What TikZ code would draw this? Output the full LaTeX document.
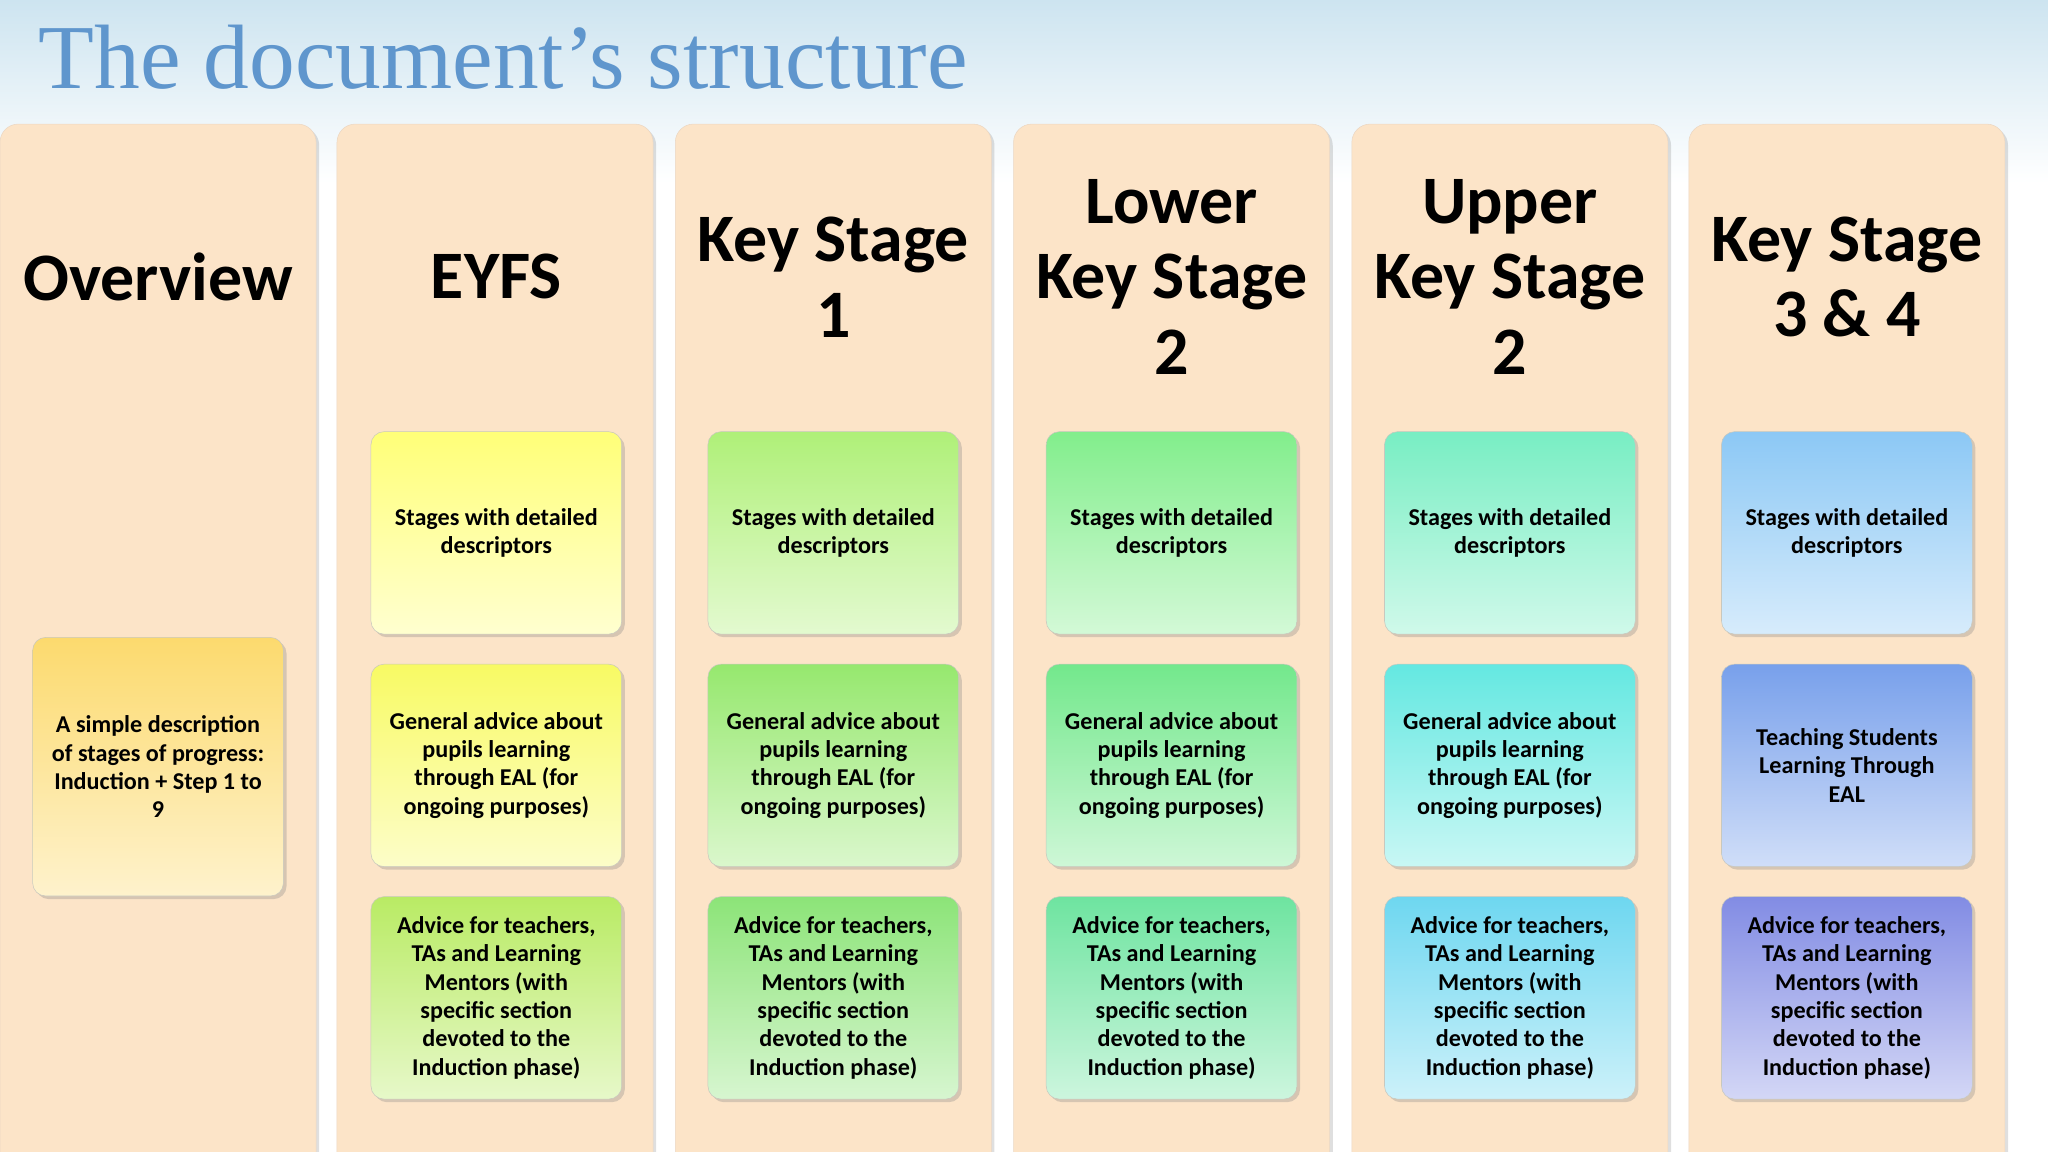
\documentclass[tikz,border=0pt]{standalone}
\usepackage{fontspec}
\setmainfont{Carlito}
\newfontfamily\titlefont{Liberation Serif}
\usetikzlibrary{shadows}
\definecolor{pan}{RGB}{252,228,200}
\definecolor{pand}{RGB}{235,215,195}
\definecolor{ov}{RGB}{252,218,110}
\definecolor{ea}{RGB}{255,255,120}
\definecolor{eb}{RGB}{248,250,100}
\definecolor{ec}{RGB}{185,235,100}
\definecolor{ka}{RGB}{175,240,120}
\definecolor{kb}{RGB}{150,232,110}
\definecolor{kc}{RGB}{140,228,120}
\definecolor{la}{RGB}{130,238,140}
\definecolor{lb}{RGB}{115,232,140}
\definecolor{lc}{RGB}{110,228,160}
\definecolor{ua}{RGB}{120,238,195}
\definecolor{ub}{RGB}{100,232,225}
\definecolor{uc}{RGB}{110,215,240}
\definecolor{sa}{RGB}{140,200,245}
\definecolor{sb}{RGB}{120,160,235}
\definecolor{sc}{RGB}{130,140,228}
\definecolor{ttl}{RGB}{95,150,205}
\definecolor{sky}{RGB}{205,228,240}
\definecolor{bd}{RGB}{200,200,190}
\begin{document}
\begin{tikzpicture}[x=1pt,y=-1pt,
 panel/.style={fill=pan,draw=pand,rounded corners=14pt,drop shadow={opacity=0.25}},
 head/.style={font=\bfseries\fontsize{52}{58}\selectfont,align=center},
 box/.style={draw=bd,rounded corners=10pt,minimum width=192pt,minimum height=155pt,align=center,font=\bfseries\fontsize{18.5}{21.7}\selectfont,drop shadow={opacity=0.3}},
 c1/.style={box,top color=#1,bottom color=#1!35!white}]
\useasboundingbox (0,0) rectangle (1568,882);
\fill[top color=sky,bottom color=white] (0,0) rectangle (1568,140);
\node[anchor=west,font=\titlefont\fontsize{70}{78}\selectfont,text=ttl] (title) at (26,44) {The document’s structure};
\foreach \x in {0,258,517,776,1035,1293}
  \path[panel] (\x,95) rectangle (\x+242,900);
\node[head] (h1) at (121,212) {Overview};
\node[head] (h2) at (380,212) {EYFS};
\node[head] (h3) at (638,212) {Key Stage\\1};
\node[head] (h4) at (897,212) {Lower\\Key Stage\\2};
\node[head] (h5) at (1156,212) {Upper\\Key Stage\\2};
\node[head] (h6) at (1414,212) {Key Stage\\3 \& 4};
\node[c1=ov,minimum height=198pt] (o1) at (121,587) {A simple description\\of stages of progress:\\Induction + Step 1 to\\9};
\def\sd{Stages with detailed\\descriptors}
\def\ga{General advice about\\pupils learning\\through EAL (for\\ongoing purposes)}
\def\at{Advice for teachers,\\TAs and Learning\\Mentors (with\\specific section\\devoted to the\\Induction phase)}
\node[c1=ea] (e1) at (380,408) {\sd};
\node[c1=eb] (e2) at (380,586) {\ga};
\node[c1=ec] (e3) at (380,764) {\at};
\node[c1=ka] (k1) at (638,408) {\sd};
\node[c1=kb] (k2) at (638,586) {\ga};
\node[c1=kc] (k3) at (638,764) {\at};
\node[c1=la] (l1) at (897,408) {\sd};
\node[c1=lb] (l2) at (897,586) {\ga};
\node[c1=lc] (l3) at (897,764) {\at};
\node[c1=ua] (u1) at (1156,408) {\sd};
\node[c1=ub] (u2) at (1156,586) {\ga};
\node[c1=uc] (u3) at (1156,764) {\at};
\node[c1=sa] (s1) at (1414,408) {\sd};
\node[c1=sb] (s2) at (1414,586) {Teaching Students\\Learning Through\\EAL};
\node[c1=sc] (s3) at (1414,764) {\at};
\end{tikzpicture}
\end{document}
